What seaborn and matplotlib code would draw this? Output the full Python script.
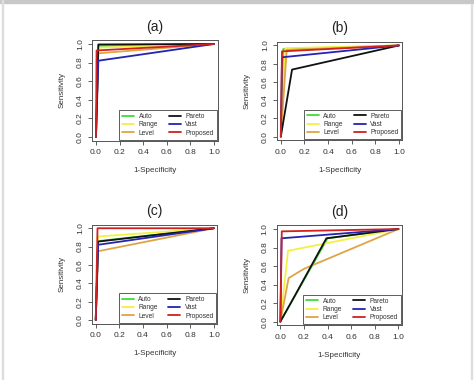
import pandas as pd
import seaborn as sns
import matplotlib.pyplot as plt
from matplotlib.lines import Line2D
from matplotlib.patches import Rectangle

METHODS = ["Auto", "Range", "Level", "Pareto", "Vast", "Proposed"]
COLORS = ["#3ddc3d", "#f4ef45", "#dfa445", "#111111", "#2424b0", "#d02020"]
PANELS = ["(a)", "(b)", "(c)", "(d)"]

# false positive rate / sensitivity per method, one dict per panel
fpr_a = {"Auto": [0, 0.02, 1], "Range": [0, 0.02, 1], "Level": [0, 0.02, 1],
         "Pareto": [0, 0.02, 1], "Vast": [0, 0.02, 1], "Proposed": [0, 0.005, 1]}
tpr_a = {"Auto": [0, 0.98, 1], "Range": [0, 0.96, 1], "Level": [0, 0.90, 1],
         "Pareto": [0, 0.995, 1], "Vast": [0, 0.82, 1], "Proposed": [0, 0.93, 1]}

fpr_b = {"Auto": [0, 0.02, 1], "Range": [0, 0.04, 1], "Level": [0, 0.05, 1],
         "Pareto": [0, 0.095, 1], "Vast": [0, 0.01, 1], "Proposed": [0, 0.01, 1]}
tpr_b = {"Auto": [0, 0.96, 1], "Range": [0, 0.97, 1], "Level": [0, 0.95, 1],
         "Pareto": [0, 0.735, 1], "Vast": [0, 0.87, 1], "Proposed": [0, 0.935, 1]}

fpr_c = {"Auto": [0, 0.02, 1], "Range": [0, 0.02, 1], "Level": [0, 0.02, 1],
         "Pareto": [0, 0.02, 1], "Vast": [0, 0.02, 1], "Proposed": [0, 0.015, 1]}
tpr_c = {"Auto": [0, 0.86, 1], "Range": [0, 0.91, 1], "Level": [0, 0.75, 1],
         "Pareto": [0, 0.855, 1], "Vast": [0, 0.82, 1], "Proposed": [0, 1.0, 1]}

fpr_d = {"Auto": [0, 0.4, 1], "Range": [0, 0.065, 1], "Level": [0, 0.07, 0.2, 1],
         "Pareto": [0, 0.11, 0.39, 1], "Vast": [0, 0.01, 1], "Proposed": [0, 0.012, 1]}
tpr_d = {"Auto": [0, 0.9, 1], "Range": [0, 0.765, 1], "Level": [0, 0.47, 0.57, 1],
         "Pareto": [0, 0.25, 0.9, 1], "Vast": [0, 0.90, 1], "Proposed": [0, 0.975, 1]}

TICKS = [0.0, 0.2, 0.4, 0.6, 0.8, 1.0]
TICK_LABELS = ["0.0", "0.2", "0.4", "0.6", "0.8", "1.0"]


def build_frame(fpr, tpr):
    rows = []
    for m in METHODS:
        for i, (x, y) in enumerate(zip(fpr[m], tpr[m])):
            rows.append({"fpr": x, "tpr": y, "Method": m, "order": i})
    return pd.DataFrame(rows)


sns.set_theme(style="ticks")
plt.rcParams['font.family'] = ['Liberation Sans', 'DejaVu Sans']

fig = plt.figure(figsize=(4.74, 3.80), dpi=100)
fig.patch.set_facecolor("white")
# light frame of the original screenshot
fig.patches.append(Rectangle((0, 0.992), 1, 0.008, transform=fig.transFigure,
                             color="#c8c8c8", zorder=0))
fig.patches.append(Rectangle((0.004, 0), 0.002, 1, transform=fig.transFigure,
                             color="#dddddd", zorder=0))
fig.patches.append(Rectangle((0.994, 0), 0.002, 0.99, transform=fig.transFigure,
                             color="#dddddd", zorder=0))

positions = [
    [0.195, 0.630, 0.264, 0.264],
    [0.585, 0.631, 0.264, 0.259],
    [0.1945, 0.148, 0.264, 0.261],
    [0.584, 0.144, 0.264, 0.263],
]
data = [(fpr_a, tpr_a), (fpr_b, tpr_b), (fpr_c, tpr_c), (fpr_d, tpr_d)]
palette = dict(zip(METHODS, COLORS))

for pos, (fpr, tpr), title in zip(positions, data, PANELS):
    ax = fig.add_axes(pos)
    df = build_frame(fpr, tpr)
    sns.lineplot(data=df, x="fpr", y="tpr", hue="Method", palette=palette,
                 hue_order=METHODS, sort=False, estimator=None, units="Method",
                 linewidth=1.3, legend=False, ax=ax)
    ax.set_xlim(-0.03, 1.03)
    ax.set_ylim(-0.04, 1.04)
    ax.set_xticks(TICKS)
    ax.set_xticklabels(TICK_LABELS)
    ax.set_yticks(TICKS)
    ax.set_yticklabels(TICK_LABELS, rotation=90, va="center")
    ax.tick_params(labelsize=6, length=3, width=0.6, color="#444444",
                   labelcolor="#333333", pad=3)
    for s in ax.spines.values():
        s.set_linewidth(0.7)
        s.set_color("#555555")
    ax.set_xlabel("1-Specificity", fontsize=5.8, color="#333333", labelpad=8)
    ax.set_ylabel("Sensitivity", fontsize=5.8, color="#333333", labelpad=8)
    ax.set_title(title, fontsize=10, color="#222222", pad=7)

    handles = [Line2D([0], [0], color=c, lw=1.3) for c in COLORS]
    leg = ax.legend(handles, METHODS, ncol=2, loc="lower right",
                    fontsize=4.8, frameon=True, fancybox=False,
                    borderaxespad=0.15, handlelength=1.8, columnspacing=1.6,
                    labelspacing=0.2, borderpad=0.45, handletextpad=0.7)
    leg.get_frame().set_edgecolor("#333333")
    leg.get_frame().set_linewidth(0.7)
    for t in leg.get_texts():
        t.set_color("#333333")

fig.savefig("out.png", dpi=100)
